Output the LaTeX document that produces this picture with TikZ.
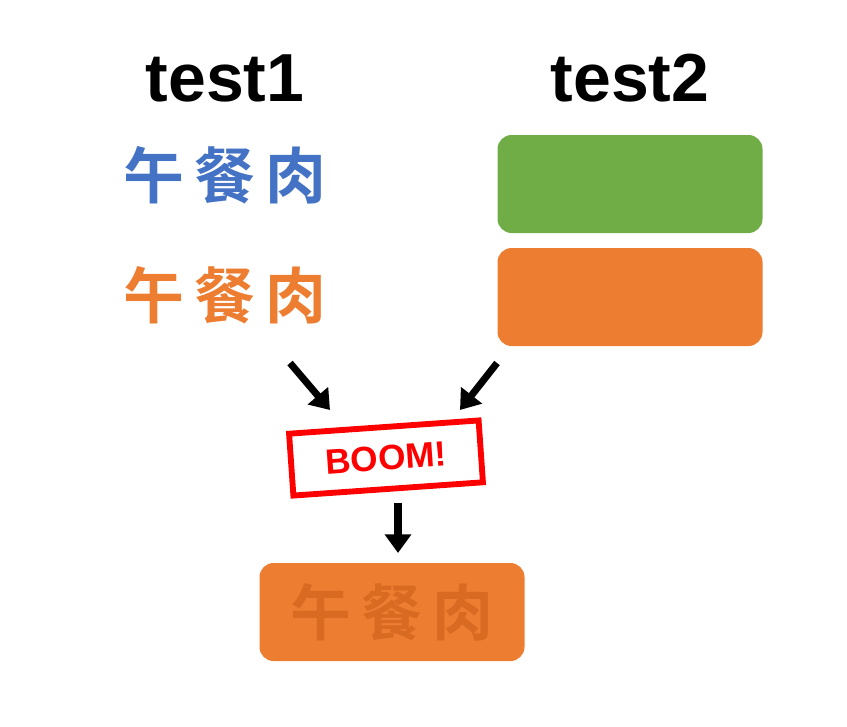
\documentclass[tikz,border=0pt]{standalone}
\usepackage{fontspec}
\setmainfont{Liberation Sans}
\newfontfamily\cjk{Noto Sans CJK SC Bold}
\usetikzlibrary{arrows.meta}
\definecolor{myblue}{HTML}{4472C4}
\definecolor{myorange}{HTML}{ED7D31}
\definecolor{mygreen}{HTML}{70AD47}
\definecolor{dkorange}{HTML}{D96A22}
\tikzset{
  title/.style={font=\fontsize{58}{60}\selectfont\bfseries},
  spam/.style={font=\cjk\fontsize{52}{54}\selectfont},
  rbox/.style={rounded corners=12pt, draw=none, minimum width=265*0.03cm, minimum height=98*0.03cm},
  bigarrow/.style={-{Triangle[length=16pt,width=22pt]}, line width=6pt}
}
\begin{document}
\begin{tikzpicture}[x=0.03cm,y=-0.03cm]
\useasboundingbox (0,0) rectangle (847,726);
\node[title] (t1) at (225,78) {test1};
\node[title] (t2) at (630,78) {test2};
\node[spam, text=myblue] (s1) at (225,175) {午\,餐\,肉};
\node[spam, text=myorange] (s2) at (225,295) {午\,餐\,肉};
\node[rbox, fill=mygreen] (g) at (630,184) {};
\node[rbox, fill=myorange] (o) at (630,297) {};
\node[draw=red, line width=5pt, fill=white, rotate=4, minimum width=190*0.03cm, minimum height=62*0.03cm, text=red, font=\fontsize{30}{32}\selectfont\bfseries] (boom) at (386,458) {BOOM!};
\node[rbox, fill=myorange, spam, text=dkorange] (res) at (392,612) {午\,餐\,肉};
\coordinate (a1) at (290,363);
\coordinate (b1) at (330,410);
\coordinate (a2) at (497,363);
\coordinate (b2) at (460,410);
\coordinate (a3) at (398,503);
\coordinate (b3) at (398,553);
\draw[bigarrow] (a1) -- (b1);
\draw[bigarrow] (a2) -- (b2);
\draw[bigarrow] (a3) -- (b3);
\end{tikzpicture}
\end{document}
